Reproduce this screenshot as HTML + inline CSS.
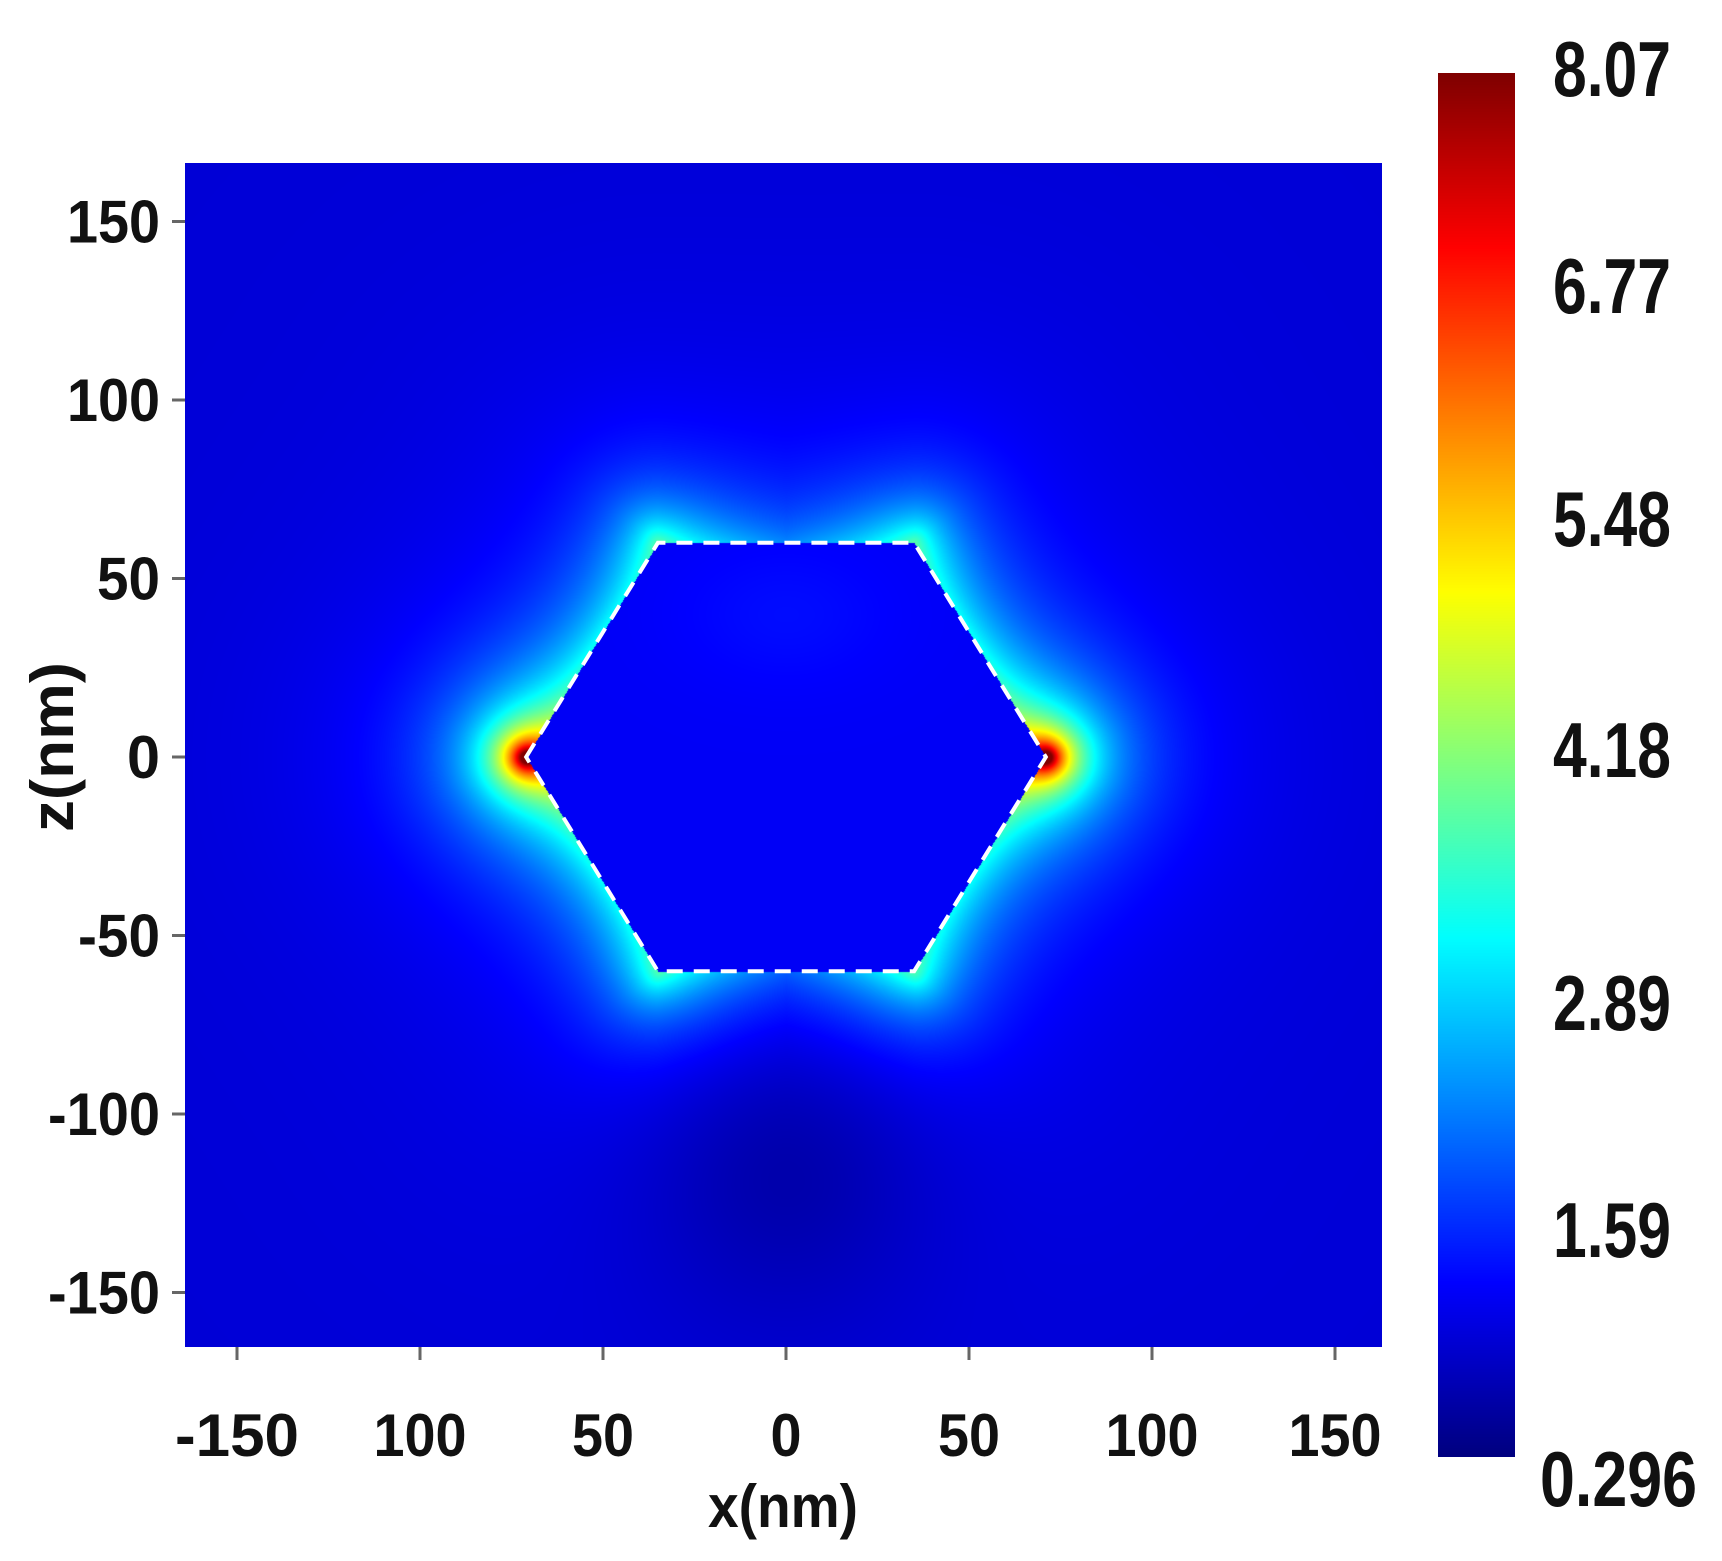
<!DOCTYPE html>
<html><head><meta charset="utf-8"><style>
html,body{margin:0;padding:0;background:#fff;}
#wrap{position:relative;width:1722px;height:1561px;overflow:hidden;}
canvas{position:absolute;}
svg{position:absolute;left:0;top:0;}
text{font-family:"Liberation Sans",sans-serif;font-weight:bold;fill:#111;}
</style></head><body>
<div id="wrap">
<canvas id="heat" width="1197" height="1184" style="left:185px;top:163px;"></canvas>
<canvas id="cbar" width="77" height="1384" style="left:1438px;top:73px;"></canvas>
<svg id="ov" width="1722" height="1561"></svg>
</div>
<script>
// ---- data ----
const xTicks = [-150, -100, -50, 0, 50, 100, 150];
const xTickLabels = ["-150", "100", "50", "0", "50", "100", "150"];
const zTicks = [150, 100, 50, 0, -50, -100, -150];
const zTickLabels = ["150", "100", "50", "0", "-50", "-100", "-150"];
const cbarLabels = ["8.07", "6.77", "5.48", "4.18", "2.89", "1.59", "0.296"];
const cbarMin = 0.296, cbarMax = 8.07;
const hexX = [-71, -35, 35, 71, 35, -35];
const hexZ = [0, 60, 60, 0, -60, -60];
const hotX = [-71, 71, -71, 71, -35, 35, -35, 35];
const hotZ = [0, 0, 0, 0, 60, 60, -60, -60];
const hotAmp = [4.0, 4.0, 2.6, 2.6, 0.9, 0.9, 0.9, 0.9];
const hotLen = [5, 5, 16, 16, 12, 12, 12, 12];
const baseValue = 0.95, insideValue = 1.2, edgeGlow = 1.6, darkDip = 0.45;

// ---- axes ----
const X0 = 786, XS = 3.66, Z0 = 757, ZS = 3.57;
const PL = 185, PT = 163, PW = 1197, PH = 1184;
const X = v => X0 + v * XS;
const Z = v => Z0 - v * ZS;
const ix = p => (p - X0) / XS;
const iz = p => (Z0 - p) / ZS;

function jet(t) {
  t = Math.max(0, Math.min(1, t));
  const r = Math.max(0, Math.min(1, 1.5 - Math.abs(4 * t - 3)));
  const g = Math.max(0, Math.min(1, 1.5 - Math.abs(4 * t - 2)));
  const b = Math.max(0, Math.min(1, 1.5 - Math.abs(4 * t - 1)));
  return [r * 255, g * 255, b * 255];
}
function segDist(px, pz, ax, az, bx, bz) {
  const dx = bx - ax, dz = bz - az;
  let t = ((px - ax) * dx + (pz - az) * dz) / (dx * dx + dz * dz);
  t = Math.max(0, Math.min(1, t));
  const qx = ax + t * dx - px, qz = az + t * dz - pz;
  return Math.sqrt(qx * qx + qz * qz);
}
function inside(px, pz) {
  let c = false;
  for (let i = 0, j = hexX.length - 1; i < hexX.length; j = i++) {
    if ((hexZ[i] > pz) !== (hexZ[j] > pz) &&
        px < (hexX[j] - hexX[i]) * (pz - hexZ[i]) / (hexZ[j] - hexZ[i]) + hexX[i]) c = !c;
  }
  return c;
}
function field(x, z) {
  let d = 1e9;
  for (let i = 0; i < hexX.length; i++) {
    const j = (i + 1) % hexX.length;
    d = Math.min(d, segDist(x, z, hexX[i], hexZ[i], hexX[j], hexZ[j]));
  }
  const dip = darkDip * Math.exp(-(x * x) / (40 * 40) - ((z + 110) * (z + 110)) / (45 * 45));
  if (inside(x, z)) return insideValue + 0.15 * Math.exp(-((z - 40) * (z - 40)) / 400 - x * x / 900);
  let v = baseValue - dip + edgeGlow * Math.exp(-d / 12) + 0.45 * Math.exp(-d / 40);
  if (z > 60 && Math.abs(x) < 35) v -= 0.8 * Math.exp(-d / 12) * (1 - Math.abs(x) / 35);
  if (z < -60 && Math.abs(x) < 35) v -= 1.0 * Math.exp(-d / 12) * (1 - Math.abs(x) / 35);
  for (let k = 0; k < hotX.length; k++) {
    const r = Math.hypot(x - hotX[k], z - hotZ[k]);
    v += hotAmp[k] * Math.exp(-r / hotLen[k]);
  }
  return v;
}

// ---- heatmap ----
const hc = document.getElementById('heat'), hx = hc.getContext('2d');
const img = hx.createImageData(PW, PH);
for (let py = 0; py < PH; py++) {
  const z = iz(PT + py);
  for (let px = 0; px < PW; px++) {
    const x = ix(PL + px);
    const c = jet((field(x, z) - cbarMin) / (cbarMax - cbarMin));
    const o = (py * PW + px) * 4;
    img.data[o] = c[0]; img.data[o + 1] = c[1]; img.data[o + 2] = c[2]; img.data[o + 3] = 255;
  }
}
hx.putImageData(img, 0, 0);

// ---- colorbar ----
const cc = document.getElementById('cbar'), cx = cc.getContext('2d');
for (let y = 0; y < 1384; y++) {
  const c = jet(1 - y / 1383);
  cx.fillStyle = `rgb(${c[0] | 0},${c[1] | 0},${c[2] | 0})`;
  cx.fillRect(0, y, 77, 1);
}

// ---- SVG overlay ----
const NS = 'http://www.w3.org/2000/svg';
const ov = document.getElementById('ov');
function mk(tag, attrs) {
  const e = document.createElementNS(NS, tag);
  for (const k in attrs) e.setAttribute(k, attrs[k]);
  ov.appendChild(e); return e;
}
const hex = mk('polygon', {points: hexX.map((v, i) => X(v) + ',' + Z(hexZ[i])).join(' '), fill: 'none', stroke: '#fff', 'stroke-width': 4, 'stroke-dasharray': '16 11'});



xTicks.forEach((v, i) => {
  const l = mk('line', {x1: X(v), x2: X(v), y1: 1347, y2: 1360, stroke: '#666', 'stroke-width': 3});
  
  
  const t = mk('text', {x: X(v), y: 1456, 'font-size': 60, 'text-anchor': 'middle', textLength: xTickLabels[i].length * 31, lengthAdjust: 'spacingAndGlyphs'});
  t.textContent = xTickLabels[i];
  
  
});
zTicks.forEach((v, i) => {
  const l = mk('line', {x1: 172, x2: 185, y1: Z(v), y2: Z(v), stroke: '#666', 'stroke-width': 3});
  
  
  const s = zTickLabels[i];
  const w = s.length * 30 + (s[0] === '-' ? -8 : 3);
  const t = mk('text', {x: 160, y: Z(v) + 21, 'font-size': 60, 'text-anchor': 'end', textLength: w, lengthAdjust: 'spacingAndGlyphs'});
  t.textContent = s;
  
  
});
const xt = mk('text', {x: 783, y: 1527, 'font-size': 60, 'text-anchor': 'middle', textLength: 150, lengthAdjust: 'spacingAndGlyphs'});
xt.textContent = 'x(nm)';


const zt = mk('text', {x: 0, y: 0, 'font-size': 60, 'text-anchor': 'middle', textLength: 170, lengthAdjust: 'spacingAndGlyphs', transform: 'translate(73,747) rotate(-90)'});
zt.textContent = 'z(nm)';



const cbY = [69, 286, 519, 750, 1003, 1230, 1479];
cbarLabels.forEach((s, i) => {
  const t = mk('text', {x: s.length > 4 ? 1540 : 1553, y: cbY[i] + 27, 'font-size': 78, textLength: s.length > 4 ? 157 : 118, lengthAdjust: 'spacingAndGlyphs'});
  t.textContent = s;
  
  
});
</script>
</body></html>
